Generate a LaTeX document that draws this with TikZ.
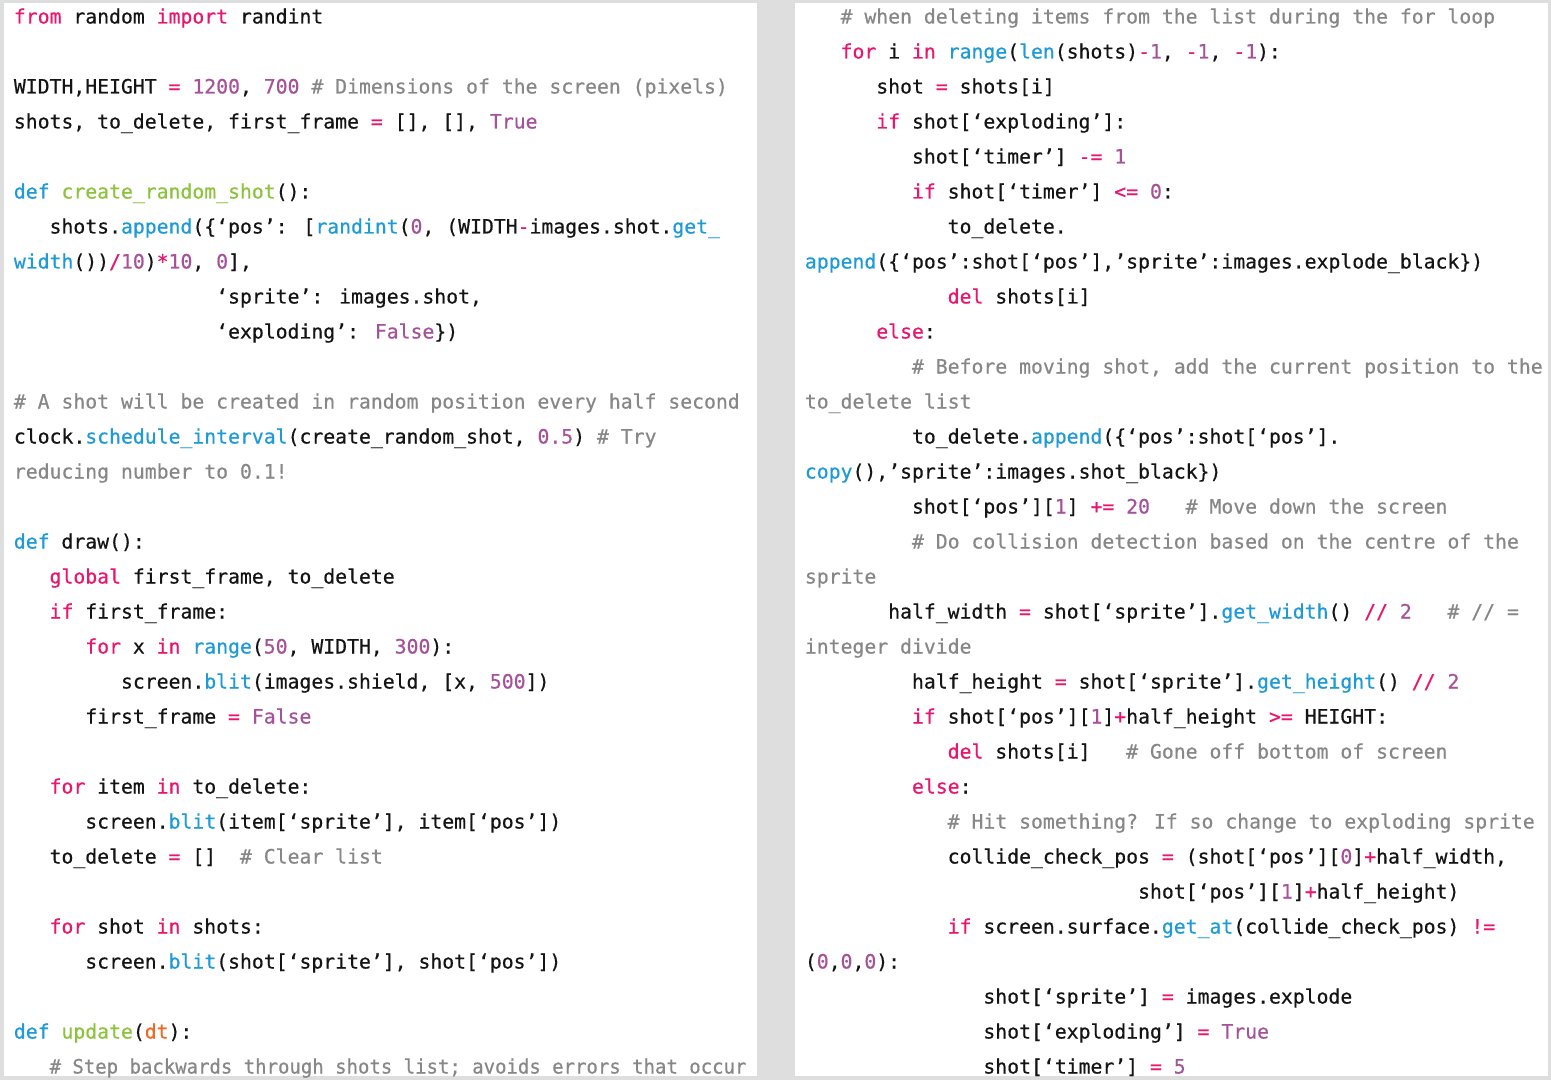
\documentclass[tikz,border=0pt]{standalone}
\usepackage{fontspec}
\usepackage{tikz}
\newfontfamily\codefont{DejaVu Sans Mono}[FakeBold=0.5]
\definecolor{pagegray}{RGB}{222,222,222}
\definecolor{inkblack}{RGB}{20,20,20}
\definecolor{kwpink}{RGB}{232,22,110}
\definecolor{numpurple}{RGB}{165,82,155}
\definecolor{fnblue}{RGB}{30,155,215}
\definecolor{defgreen}{RGB}{140,195,60}
\definecolor{prmorange}{RGB}{240,105,35}
\definecolor{comgray}{RGB}{135,135,135}
\newcommand{\ckw}[1]{\textcolor{kwpink}{#1}}
\newcommand{\cnum}[1]{\textcolor{numpurple}{#1}}
\newcommand{\cfn}[1]{\textcolor{fnblue}{#1}}
\newcommand{\cdef}[1]{\textcolor{defgreen}{#1}}
\newcommand{\cprm}[1]{\textcolor{prmorange}{#1}}
\newcommand{\ccom}[1]{\textcolor{comgray}{#1}}

\begin{document}
\begin{tikzpicture}[x=0.5pt, y=-0.5pt,
  codeline/.style={anchor=base west, inner sep=0pt, text=inkblack, font=\codefont\fontsize{9.883pt}{17.5pt}\selectfont}]
  % Page and the two panels
  \fill[pagegray] (0,0) rectangle (1551,1080);
  \fill[white] (4,3) rectangle (757,1076);
  \fill[white] (795,3) rectangle (1548,1076);

  % Left panel: one character per x unit, one line per y unit
  \begin{scope}[x=5.95pt, y=-17.5pt, xshift=6.75pt, yshift=-11.75pt]
    \node[codeline] (left0) at (0,0) {\ckw{from} random \ckw{import} randint};
    \node[codeline] (left2) at (0,2) {WIDTH,HEIGHT \ckw{=} \cnum{1200}, \cnum{700} \ccom{\# Dimensions of the screen (pixels)}};
    \node[codeline] (left3) at (0,3) {shots, to\_delete, first\_frame \ckw{=} [], [], \cnum{True}};

    % create_random_shot
    \node[codeline] (left5) at (0,5) {\cfn{def} \cdef{create\_random\_shot}():};
    \node[codeline] (left6) at (3,6) {shots.\cfn{append}(\{‘pos’: [\cfn{randint}(\cnum{0}, (WIDTH\ckw{-}images.shot.\cfn{get\_}};
    \node[codeline] (left7) at (0,7) {\cfn{width}())\ckw{/}\cnum{10})\ckw{*}\cnum{10}, \cnum{0}],};
    \node[codeline] (left8) at (17,8) {‘sprite’: images.shot,};
    \node[codeline] (left9) at (17,9) {‘exploding’: \cnum{False}\})};

    % Scheduling
    \node[codeline] (left11) at (0,11) {\ccom{\# A shot will be created in random position every half second}};
    \node[codeline] (left12) at (0,12) {clock.\cfn{schedule\_interval}(create\_random\_shot, \cnum{0.5}) \ccom{\# Try}};
    \node[codeline] (left13) at (0,13) {\ccom{reducing number to 0.1!}};

    % draw
    \node[codeline] (left15) at (0,15) {\cfn{def} draw():};
    \node[codeline] (left16) at (3,16) {\ckw{global} first\_frame, to\_delete};
    \node[codeline] (left17) at (3,17) {\ckw{if} first\_frame:};
    \node[codeline] (left18) at (6,18) {\ckw{for} x \ckw{in} \cfn{range}(\cnum{50}, WIDTH, \cnum{300}):};
    \node[codeline] (left19) at (9,19) {screen.\cfn{blit}(images.shield, [x, \cnum{500}])};
    \node[codeline] (left20) at (6,20) {first\_frame \ckw{=} \cnum{False}};
    \node[codeline] (left22) at (3,22) {\ckw{for} item \ckw{in} to\_delete:};
    \node[codeline] (left23) at (6,23) {screen.\cfn{blit}(item[‘sprite’], item[‘pos’])};
    \node[codeline] (left24) at (3,24) {to\_delete \ckw{=} []\ \ \ccom{\# Clear list}};
    \node[codeline] (left26) at (3,26) {\ckw{for} shot \ckw{in} shots:};
    \node[codeline] (left27) at (6,27) {screen.\cfn{blit}(shot[‘sprite’], shot[‘pos’])};

    % update
    \node[codeline] (left29) at (0,29) {\cfn{def} \cdef{update}(\cprm{dt}):};
    \node[codeline, xscale=0.96, transform shape] (left30) at (3,30) {\ccom{\# Step backwards through shots list; avoids errors that occur}};
  \end{scope}

  % Right panel
  \begin{scope}[x=5.95pt, y=-17.5pt, xshift=402.25pt, yshift=-11.75pt]
    \node[codeline] (right0) at (3,0) {\ccom{\# when deleting items from the list during the for loop}};
    \node[codeline] (right1) at (3,1) {\ckw{for} i \ckw{in} \cfn{range}(\cfn{len}(shots)\ckw{-}\cnum{1}, \ckw{-}\cnum{1}, \ckw{-}\cnum{1}):};
    \node[codeline] (right2) at (6,2) {shot \ckw{=} shots[i]};
    \node[codeline] (right3) at (6,3) {\ckw{if} shot[‘exploding’]:};
    \node[codeline] (right4) at (9,4) {shot[‘timer’] \ckw{-=} \cnum{1}};
    \node[codeline] (right5) at (9,5) {\ckw{if} shot[‘timer’] \ckw{<=} \cnum{0}:};
    \node[codeline] (right6) at (12,6) {to\_delete.};
    \node[codeline] (right7) at (0,7) {\cfn{append}(\{‘pos’:shot[‘pos’],’sprite’:images.explode\_black\})};
    \node[codeline] (right8) at (12,8) {\ckw{del} shots[i]};
    \node[codeline] (right9) at (6,9) {\ckw{else}:};

    % Moving shots
    \node[codeline] (right10) at (9,10) {\ccom{\# Before moving shot, add the current position to the}};
    \node[codeline] (right11) at (0,11) {\ccom{to\_delete list}};
    \node[codeline] (right12) at (9,12) {to\_delete.\cfn{append}(\{‘pos’:shot[‘pos’].};
    \node[codeline] (right13) at (0,13) {\cfn{copy}(),’sprite’:images.shot\_black\})};
    \node[codeline] (right14) at (9,14) {shot[‘pos’][\cnum{1}] \ckw{+=} \cnum{20}\ \ \ \ccom{\# Move down the screen}};
    \node[codeline] (right15) at (9,15) {\ccom{\# Do collision detection based on the centre of the}};
    \node[codeline] (right16) at (0,16) {\ccom{sprite}};
    \node[codeline] (right17) at (7,17) {half\_width \ckw{=} shot[‘sprite’].\cfn{get\_width}() \ckw{//} \cnum{2}\ \ \ \ccom{\# // =}};
    \node[codeline] (right18) at (0,18) {\ccom{integer divide}};
    \node[codeline] (right19) at (9,19) {half\_height \ckw{=} shot[‘sprite’].\cfn{get\_height}() \ckw{//} \cnum{2}};
    \node[codeline] (right20) at (9,20) {\ckw{if} shot[‘pos’][\cnum{1}]\ckw{+}half\_height \ckw{>=} HEIGHT:};
    \node[codeline] (right21) at (12,21) {\ckw{del} shots[i]\ \ \ \ccom{\# Gone off bottom of screen}};
    \node[codeline] (right22) at (9,22) {\ckw{else}:};

    % Collision
    \node[codeline] (right23) at (12,23) {\ccom{\# Hit something? If so change to exploding sprite}};
    \node[codeline] (right24) at (12,24) {collide\_check\_pos \ckw{=} (shot[‘pos’][\cnum{0}]\ckw{+}half\_width,};
    \node[codeline] (right25) at (28,25) {shot[‘pos’][\cnum{1}]\ckw{+}half\_height)};
    \node[codeline] (right26) at (12,26) {\ckw{if} screen.surface.\cfn{get\_at}(collide\_check\_pos) \ckw{!=}};
    \node[codeline] (right27) at (0,27) {(\cnum{0},\cnum{0},\cnum{0}):};
    \node[codeline] (right28) at (15,28) {shot[‘sprite’] \ckw{=} images.explode};
    \node[codeline] (right29) at (15,29) {shot[‘exploding’] \ckw{=} \cnum{True}};
    \node[codeline] (right30) at (15,30) {shot[‘timer’] \ckw{=} \cnum{5}};
  \end{scope}
\end{tikzpicture}
\end{document}
